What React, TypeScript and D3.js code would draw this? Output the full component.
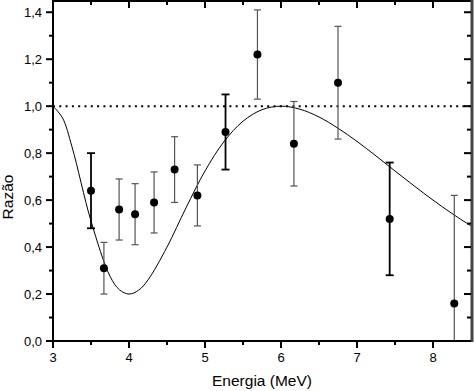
import React from "react";
import * as d3 from "d3";

const energies = [3.5, 3.67, 3.87, 4.08, 4.33, 4.6, 4.9, 5.27, 5.69, 6.17, 6.75, 7.43, 8.28];
const ratios = [0.64, 0.31, 0.56, 0.54, 0.59, 0.73, 0.62, 0.89, 1.22, 0.84, 1.1, 0.52, 0.16];
const errLow = [0.48, 0.2, 0.43, 0.41, 0.46, 0.59, 0.49, 0.73, 1.03, 0.66, 0.86, 0.28, 0.0];
const errHigh = [0.8, 0.42, 0.69, 0.67, 0.72, 0.87, 0.75, 1.05, 1.41, 1.02, 1.34, 0.76, 0.62];
const boldBars = [true, false, false, false, false, false, false, true, false, false, false, true, false];

const curveE = [3.0, 3.125, 3.25, 3.5, 3.75, 3.875, 4.0, 4.125, 4.25, 4.5, 4.75, 5.0, 5.25, 5.5, 5.75, 6.0, 6.25, 6.5, 6.75, 7.0, 7.25, 7.5, 7.75, 8.0, 8.25, 8.5];
const curveR = [1.0, 0.95, 0.827, 0.511, 0.276, 0.218, 0.2, 0.216, 0.26, 0.4, 0.567, 0.724, 0.849, 0.936, 0.985, 1.0, 0.987, 0.954, 0.906, 0.85, 0.788, 0.724, 0.661, 0.6, 0.543, 0.49];

const xMajor = [3, 4, 5, 6, 7, 8];
const xMinor = [3.5, 4.5, 5.5, 6.5, 7.5];
const yMajor = [0, 0.2, 0.4, 0.6, 0.8, 1.0, 1.2, 1.4];
const yMinor = [0.1, 0.3, 0.5, 0.7, 0.9, 1.1, 1.3];

const W = 474;
const H = 391;
const L = 53;
const R = 471;
const T = 0.5;
const B = 341;

export default function App() {
  const x = d3.scaleLinear().domain([3, 8.5]).range([L, R]);
  const y = d3.scaleLinear().domain([0, 1.45]).range([B, T]);
  const line = d3
    .line<number>()
    .x((_, i) => x(curveE[i]))
    .y((d) => y(d))
    .curve(d3.curveCatmullRom);
  const fmt = (v: number) => v.toFixed(1).replace(".", ",");
  const font = "Liberation Sans, Arial, sans-serif";

  return (
    <svg
      width={W}
      height={H}
      style={{ position: "absolute", left: 0, top: 0, background: "#fff" }}
    >
      {/* reference line */}
      <line
        x1={x(3)}
        x2={R}
        y1={y(1)}
        y2={y(1)}
        stroke="#000"
        strokeWidth={2}
        strokeDasharray="2,4.3"
      />
      {/* model curve */}
      <path d={line(curveR) || ""} fill="none" stroke="#000" strokeWidth={1} />
      {/* error bars */}
      {energies.map((e, i) => {
        const cx = x(e);
        const col = boldBars[i] ? "#000" : "#555";
        const sw = boldBars[i] ? 1.8 : 1.2;
        const cap = boldBars[i] ? 4 : 3.5;
        return (
          <g key={"e" + i} stroke={col} strokeWidth={sw}>
            <line x1={cx} x2={cx} y1={y(errLow[i])} y2={y(errHigh[i])} />
            <line x1={cx - cap} x2={cx + cap} y1={y(errHigh[i])} y2={y(errHigh[i])} />
            {errLow[i] > 0 && (
              <line x1={cx - cap} x2={cx + cap} y1={y(errLow[i])} y2={y(errLow[i])} />
            )}
          </g>
        );
      })}
      {energies.map((e, i) => (
        <circle key={"p" + i} cx={x(e)} cy={y(ratios[i])} r={4} fill="#000" />
      ))}
      {/* frame */}
      <line x1={L} x2={R} y1={1} y2={1} stroke="#000" strokeWidth={2} />
      <line x1={R + 1} x2={R + 1} y1={0} y2={B + 1} stroke="#444" strokeWidth={3} />
      <line x1={L} x2={L} y1={0} y2={B + 1} stroke="#000" strokeWidth={2} />
      <line x1={L - 1} x2={R} y1={B} y2={B} stroke="#000" strokeWidth={2} />
      {/* x ticks */}
      {xMajor.map((v) => (
        <g key={"xm" + v}>
          <line x1={x(v)} x2={x(v)} y1={B} y2={B + 7} stroke="#000" strokeWidth={2} />
          <line x1={x(v)} x2={x(v)} y1={1} y2={8} stroke="#000" strokeWidth={2} />
          <text
            x={x(v)}
            y={362}
            textAnchor="middle"
            fontFamily={font}
            fontSize={13}
            fill="#000"
          >
            {v}
          </text>
        </g>
      ))}
      {xMinor.map((v) => (
        <g key={"xn" + v}>
          <line x1={x(v)} x2={x(v)} y1={B} y2={B + 4} stroke="#000" strokeWidth={2} />
          <line x1={x(v)} x2={x(v)} y1={1} y2={5} stroke="#000" strokeWidth={2} />
        </g>
      ))}
      {/* y ticks */}
      {yMajor.map((v) => (
        <g key={"ym" + v}>
          <line x1={L - 7} x2={L} y1={y(v)} y2={y(v)} stroke="#000" strokeWidth={2} />
          <line x1={R - 7} x2={R} y1={y(v)} y2={y(v)} stroke="#000" strokeWidth={2} />
          <text
            x={42}
            y={y(v) + 4.5}
            textAnchor="end"
            fontFamily={font}
            fontSize={13}
            fill="#000"
          >
            {fmt(v)}
          </text>
        </g>
      ))}
      {yMinor.map((v) => (
        <g key={"yn" + v}>
          <line x1={L - 4} x2={L} y1={y(v)} y2={y(v)} stroke="#000" strokeWidth={2} />
          <line x1={R - 4} x2={R} y1={y(v)} y2={y(v)} stroke="#000" strokeWidth={2} />
        </g>
      ))}
      {/* axis titles */}
      <text
        x={262}
        y={386}
        textAnchor="middle"
        fontFamily={font}
        fontSize={15.5}
        fill="#000"
      >
        Energia (MeV)
      </text>
      <text
        transform={`translate(13,197) rotate(-90)`}
        textAnchor="middle"
        fontFamily={font}
        fontSize={15.5}
        fill="#000"
      >
        Razão
      </text>
    </svg>
  );
}
